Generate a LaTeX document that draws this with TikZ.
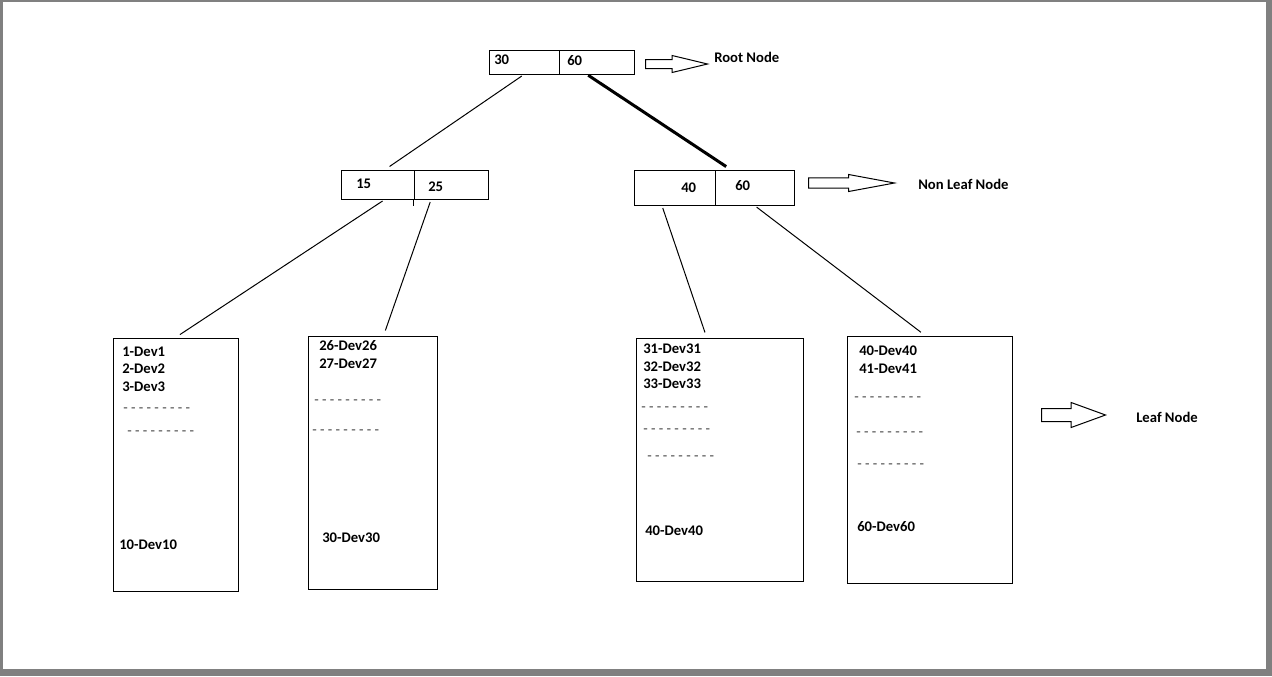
\documentclass[tikz,border=0pt]{standalone}
\usepackage{fontspec}
\setmainfont{Carlito}
\usetikzlibrary{shapes.arrows, calc}
\tikzstyle{cell} = [rectangle, draw=black, line width=0.75pt, inner sep=0pt, minimum height=18pt]
\tikzstyle{leaf} = [rectangle, draw=black, line width=0.75pt, inner sep=0pt]
\tikzstyle{key} = [anchor=west, inner sep=0pt, font=\fontsize{11}{13}\selectfont\bfseries]
\tikzstyle{gap} = [anchor=west, inner sep=0pt, font=\fontsize{11}{13}\selectfont, text=black!75]
\tikzstyle{marker} = [single arrow, draw=black, line width=0.75pt, inner sep=0pt, minimum width=0pt, single arrow head indent=0pt, anchor=tail]
\tikzstyle{branch} = [line width=0.75pt, black, shorten <=2pt, shorten >=4pt]
\tikzstyle{main_branch} = [line width=2.25pt, black, shorten <=1pt, shorten >=4pt]

\begin{document}
\begin{tikzpicture}[x=0.75pt, y=-0.75pt]

    % frame of the picture
    \fill [black!50] (0, 0) rectangle (1272, 676);
    \fill [white] (3, 2) rectangle (1266, 669);
    \useasboundingbox (0, 0) rectangle (1272, 676);

    % root node
    \node (r30) [cell, minimum width=52.5pt] at (524, 62) {};
    \node (r60) [cell, minimum width=56.25pt] at (596.5, 62) {};
    \node [key] at (494, 60) {30};
    \node [key] at (567, 61) {60};

    % non leaf nodes
    \node (nl15) [cell, minimum width=54.75pt, minimum height=21.75pt] at (377.5, 184.5) {};
    \node (nl25) [cell, minimum width=55.5pt, minimum height=21.75pt] at (451, 184.5) {};
    \draw [line width=0.75pt] (nl25.south west) -- ++(0, 6);
    \node [key] at (356, 184) {15};
    \node [key] at (428, 187) {25};

    \node (nl40) [cell, minimum width=60.75pt, minimum height=26.25pt] at (674.5, 187.5) {};
    \node (nl60) [cell, minimum width=59.25pt, minimum height=26.25pt] at (754.5, 187.5) {};
    \node [key] at (681, 188) {40};
    \node [key] at (735, 186) {60};

    % leaf nodes
    \node (l1) [leaf, minimum width=93.75pt, minimum height=189.75pt] at (175.5, 464.5) {};
    \node (l2) [leaf, minimum width=96.75pt, minimum height=189.75pt] at (372.5, 462.5) {};
    \node (l3) [leaf, minimum width=125.25pt, minimum height=182.25pt] at (719.5, 459.5) {};
    \node (l4) [leaf, minimum width=123.75pt, minimum height=185.25pt] at (929.5, 459.5) {};

    \node [key] at (122, 352) {1-Dev1};
    \node [key] at (122, 369) {2-Dev2};
    \node [key] at (122, 387) {3-Dev3};
    \node [gap] at (123, 410) {- - - - - - - - -};
    \node [gap] at (127, 433) {- - - - - - - - -};
    \node [key] at (119, 545) {10-Dev10};

    \node [key] at (319, 346) {26-Dev26};
    \node [key] at (319, 364) {27-Dev27};
    \node [gap] at (314, 402) {- - - - - - - - -};
    \node [gap] at (312, 432) {- - - - - - - - -};
    \node [key] at (322, 538) {30-Dev30};

    \node [key] at (643, 349) {31-Dev31};
    \node [key] at (643, 367) {32-Dev32};
    \node [key] at (643, 384) {33-Dev33};
    \node [gap] at (641, 409) {- - - - - - - - -};
    \node [gap] at (643, 431) {- - - - - - - - -};
    \node [gap] at (647, 458) {- - - - - - - - -};
    \node [key] at (645, 531) {40-Dev40};

    \node [key] at (859, 351) {40-Dev40};
    \node [key] at (859, 369) {41-Dev41};
    \node [gap] at (854, 399) {- - - - - - - - -};
    \node [gap] at (856, 434) {- - - - - - - - -};
    \node [gap] at (857, 466) {- - - - - - - - -};
    \node [key] at (857, 527) {60-Dev60};

    % branches
    \draw [branch] (r30.south) -- (nl15.63);
    \draw [main_branch] (r60.233) -- (nl60.143);
    \draw [branch] (nl15.296) -- (l1.north);
    \draw [branch] (nl25.217) -- (l2.85);
    \draw [branch] (nl40.235) -- (l3.96);
    \draw [branch] (nl60.south) -- (l4.92);

    % legend arrows
    \node (root_arrow) [marker, minimum height=46.5pt, inner ysep=3pt, single arrow head extend=3pt, single arrow tip angle=27] at (645, 64) {};
    \node [key] at (714, 57) {Root Node};

    \node (nonleaf_arrow) [marker, minimum height=64.5pt, inner ysep=3.5pt, single arrow head extend=2.5pt, single arrow tip angle=21] at (808, 183) {};
    \node [key] at (918, 184) {Non Leaf Node};

    \node (leaf_arrow) [marker, minimum height=48pt, inner ysep=4.5pt, single arrow head extend=4.5pt, single arrow tip angle=40] at (1041, 415) {};
    \node [key] at (1136, 417) {Leaf Node};

\end{tikzpicture}
\end{document}
